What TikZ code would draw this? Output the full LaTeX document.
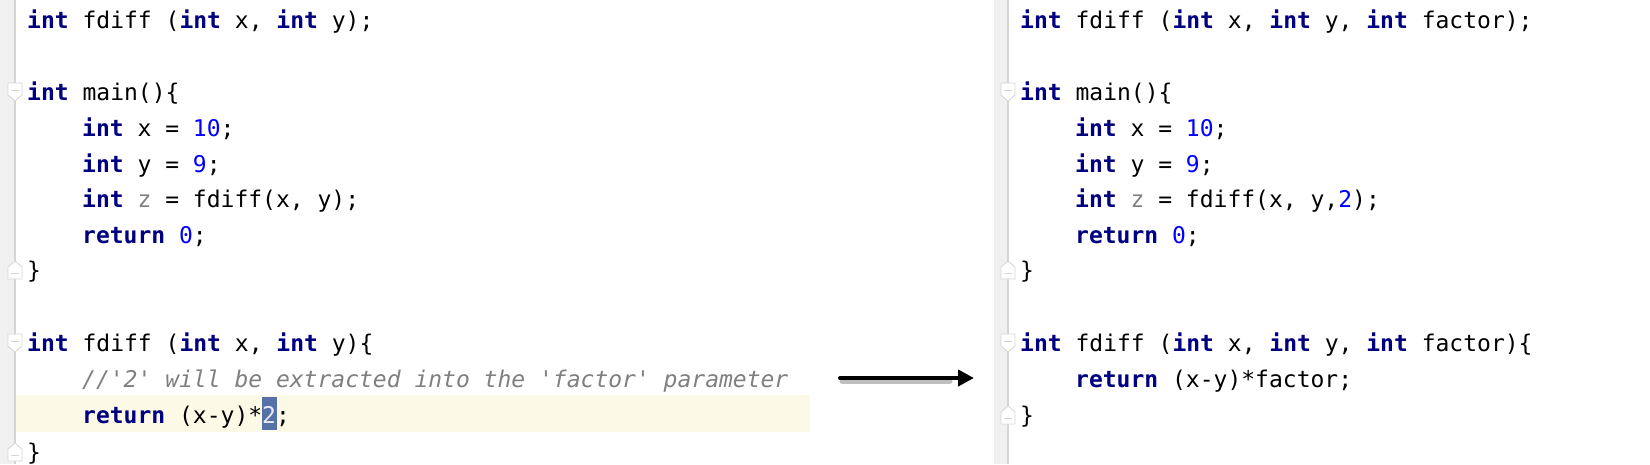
\documentclass[tikz,border=0pt]{standalone}
\usepackage{fontspec}
\usetikzlibrary{arrows.meta}
\newfontfamily\code{DejaVu Sans Mono}
\definecolor{kwc}{HTML}{000080}
\definecolor{numc}{HTML}{0000FF}
\definecolor{grc}{HTML}{808080}
\definecolor{gutc}{HTML}{F0F0F0}
\definecolor{gutl}{HTML}{D5D5D5}
\definecolor{hlc}{HTML}{FDF9E7}
\definecolor{selc}{HTML}{5670A8}
\newcommand{\kw}[1]{\textcolor{kwc}{\bfseries #1}}
\newcommand{\nm}[1]{\textcolor{numc}{#1}}
\newcommand{\q}{\symbol{39}}
\begin{document}
\begin{tikzpicture}[x=1pt,y=-1pt,
  ln/.style={anchor=base west,inner sep=0pt,font=\code\fontsize{23}{23}\selectfont},
  foldtop/.style={draw=gutl,fill=white,line width=0.8pt},
  arr/.style={line width=4pt,line cap=round,-{Triangle[length=16pt,width=16pt]}}]
\useasboundingbox (0,0) rectangle (1650,464);
\fill[white] (0,0) rectangle (1650,464);
% gutters
\fill[gutc] (0,0) rectangle (15,464);
\draw[gutl,line width=1.2pt] (15,0) -- (15,464);
\fill[gutc] (994,0) rectangle (1008,464);
\draw[gutl,line width=1.2pt] (1008,0) -- (1008,464);
% highlight line
\fill[hlc] (16,395) rectangle (810,432);
\fill[selc] (262,397) rectangle (277,430);
% fold markers
\foreach \xx/\yy in {15/92,15/343,1008/92,1008/343}{
  \draw[foldtop] (\xx-7,\yy-9) -- (\xx+7,\yy-9) -- (\xx+7,\yy+3) -- (\xx,\yy+9) -- (\xx-7,\yy+3) -- cycle;
  \draw[gutl,line width=0.8pt] (\xx-4,\yy-2) -- (\xx+4,\yy-2);}
\foreach \xx/\yy in {15/270,15/452,1008/270,1008/415}{
  \draw[foldtop] (\xx-7,\yy+9) -- (\xx+7,\yy+9) -- (\xx+7,\yy-3) -- (\xx,\yy-9) -- (\xx-7,\yy-3) -- cycle;
  \draw[gutl,line width=0.8pt] (\xx-4,\yy+3) -- (\xx+4,\yy+3);}
% left code
\def\base{8}
\node[ln] (l1) at (27,20+\base) {\kw{int} fdiff (\kw{int} x, \kw{int} y);};
\node[ln] (l3) at (27,92+\base) {\kw{int} main()\{};
\node[ln] (l4) at (82,128+\base) {\kw{int} x = \nm{10};};
\node[ln] (l5) at (82,164+\base) {\kw{int} y = \nm{9};};
\node[ln] (l6) at (82,199+\base) {\kw{int} \textcolor{grc}{z} = fdiff(x, y);};
\node[ln] (l7) at (82,235+\base) {\kw{return} \nm{0};};
\node[ln] (l8) at (27,270+\base) {\}};
\node[ln] (l10) at (27,343+\base) {\kw{int} fdiff (\kw{int} x, \kw{int} y)\{};
\node[ln] (l11) at (82,379+\base) {\textcolor{grc}{\itshape //\q2\q{} will be extracted into the \q factor\q{} parameter}};
\node[ln] (l12) at (82,415+\base) {\kw{return} (x-y)*\textcolor{white!85!selc}{2};};
\node[ln] (l13) at (27,452+\base) {\}};
% right code
\node[ln] (r1) at (1020,20+\base) {\kw{int} fdiff (\kw{int} x, \kw{int} y, \kw{int} factor);};
\node[ln] (r3) at (1020,92+\base) {\kw{int} main()\{};
\node[ln] (r4) at (1075,128+\base) {\kw{int} x = \nm{10};};
\node[ln] (r5) at (1075,164+\base) {\kw{int} y = \nm{9};};
\node[ln] (r6) at (1075,199+\base) {\kw{int} \textcolor{grc}{z} = fdiff(x, y,\nm{2});};
\node[ln] (r7) at (1075,235+\base) {\kw{return} \nm{0};};
\node[ln] (r8) at (1020,270+\base) {\}};
\node[ln] (r10) at (1020,343+\base) {\kw{int} fdiff (\kw{int} x, \kw{int} y, \kw{int} factor)\{};
\node[ln] (r11) at (1075,379+\base) {\kw{return} (x-y)*factor;};
\node[ln] (r12) at (1020,415+\base) {\}};
% arrow
\coordinate (a1) at (840,378);
\coordinate (a2) at (974,378);
\draw[black!25,line width=5pt,line cap=round] (842,381) -- (950,381);
\draw[arr] (a1) -- (a2);
\end{tikzpicture}
\end{document}
